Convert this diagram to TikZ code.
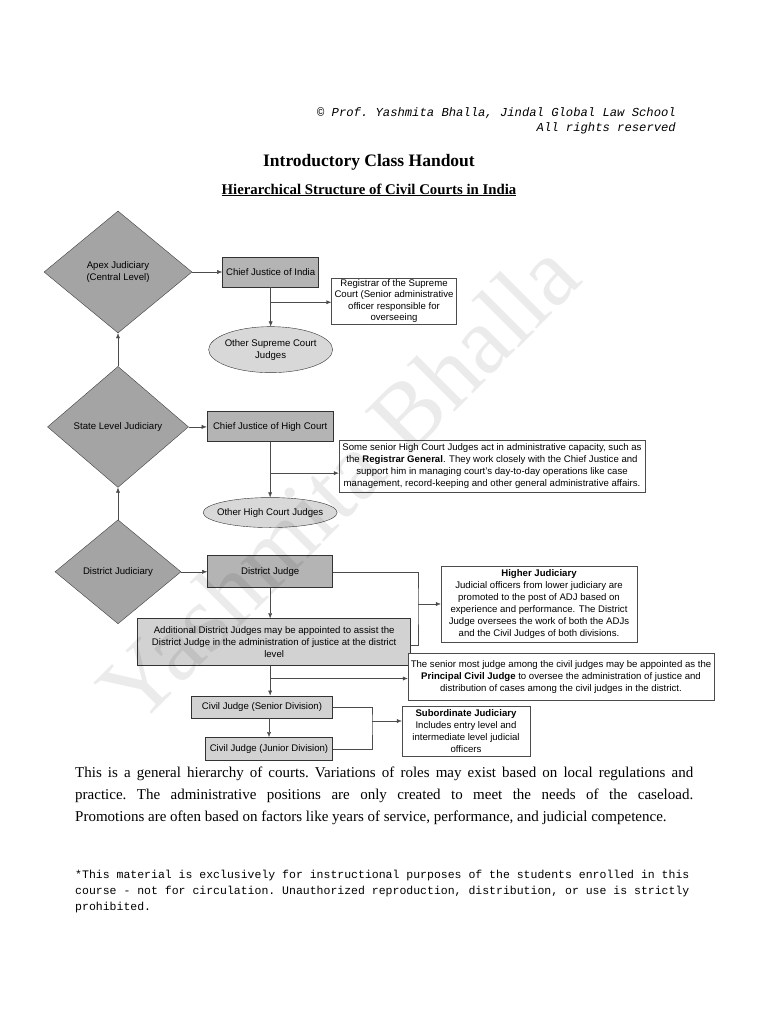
\documentclass[tikz,border=0pt]{standalone}
\usepackage{fontspec}
\setmainfont{Liberation Serif}
\setsansfont{Liberation Sans}
\setmonofont{Liberation Mono}
\usetikzlibrary{shapes.geometric,arrows.meta,positioning,calc}

\definecolor{levelgray}{HTML}{A4A4A4}
\definecolor{judgegray}{HTML}{B4B4B4}
\definecolor{benchgray}{HTML}{D8D8D8}
\definecolor{addlgray}{HTML}{D2D2D2}

\newcommand{\chartfont}{\sffamily\fontsize{9.6}{12}\selectfont}
\newcommand{\monospacing}{\spaceskip=0.6em\relax\xspaceskip=0.6em\relax}

\tikzset{
  level/.style={diamond, draw=black!75, fill=levelgray, inner sep=0pt, align=center, font=\chartfont},
  judge/.style={rectangle, draw=black!80, line width=0.9pt, fill=judgegray, inner sep=0pt, align=center, font=\chartfont},
  bench/.style={ellipse, draw=black!80, fill=benchgray, inner ysep=0pt, inner xsep=-8pt, align=center, font=\chartfont},
  remark/.style={rectangle, draw=black!70, fill=white, inner sep=0pt, align=center, font=\chartfont},
  link/.style={draw=black!70, -{Latex[length=5pt,width=4pt]}},
  line/.style={draw=black!70},
}

\begin{document}
\begin{tikzpicture}[x=1pt,y=-1pt]
  \fill[white] (0,0) rectangle (768,1024);

  % header
  \node (credit) [anchor=east, inner sep=0pt, font=\ttfamily\itshape\fontsize{12.2}{14}\selectfont] at (676,113) {\monospacing © Prof. Yashmita Bhalla, Jindal Global Law School};
  \node (rights) [anchor=east, inner sep=0pt, font=\ttfamily\itshape\fontsize{12.2}{14}\selectfont] at (676,128) {\monospacing All rights reserved};
  \node (title) [font=\bfseries\fontsize{17.5}{20}\selectfont] at (369,162) {Introductory Class Handout};
  \node (subtitle) [font=\bfseries\fontsize{14.8}{16}\selectfont] at (369,190) {\underline{Hierarchical Structure of Civil Courts in India}};

  % levels
  \node (apex) [level, minimum width=148pt, minimum height=122pt] at (118,272) {Apex Judiciary\\(Central Level)};
  \node (state) [level, minimum width=141pt, minimum height=121pt, below=33pt of apex] {State Level Judiciary};
  \node (district) [level, minimum width=126pt, minimum height=104pt, below=32pt of state] {District Judiciary};

  % supreme court
  \node (cji) [judge, minimum width=96pt, minimum height=30pt, right=30pt of apex] {Chief Justice of India};
  \node (osc) [bench, minimum width=124pt, minimum height=46pt, below=39pt of cji] {Other Supreme Court\\Judges};
  \node (reg) [remark, minimum width=125pt, minimum height=46pt, font=\sffamily\fontsize{9.6}{11.2}\selectfont] at (394,301) {Registrar of the Supreme\\Court (Senior administrative\\officer responsible for\\overseeing};

  % high court
  \node (cjh) [judge, minimum width=126pt, minimum height=30pt, right=18pt of state] {Chief Justice of High Court};
  \node (ohc) [bench, inner xsep=-10pt, minimum width=134pt, minimum height=30pt, below=55pt of cjh] {Other High Court Judges};
  \node (regg) [remark, minimum width=306pt, minimum height=52pt] at (492,466) {Some senior High Court Judges act in administrative capacity, such as\\the \textbf{Registrar General}. They work closely with the Chief Justice and\\support him in managing court's day-to-day operations like case\\management, record-keeping and other general administrative affairs.};

  % district
  \node (dj) [judge, minimum width=125pt, minimum height=32pt, right=26pt of district] {District Judge};
  \node (adj) [judge, fill=addlgray, minimum width=273pt, minimum height=47pt, below=30pt of dj, xshift=4pt] {Additional District Judges may be appointed to assist the\\District Judge in the administration of justice at the district\\level};
  \node (higher) [remark, minimum width=196pt, minimum height=76pt] at (539,604) {\textbf{Higher Judiciary}\\Judicial officers from lower judiciary are\\promoted to the post of ADJ based on\\experience and performance. The District\\Judge oversees the work of both the ADJs\\and the Civil Judges of both divisions.};
  \node (cjs) [judge, fill=addlgray, minimum width=141pt, minimum height=22pt] at (262,707) {Civil Judge (Senior Division)};
  \node (cjj) [judge, fill=addlgray, minimum width=127pt, minimum height=23pt] at (269,749) {Civil Judge (Junior Division)};
  \node (pcj) [remark, minimum width=306pt, minimum height=47pt] at (561,677) {The senior most judge among the civil judges may be appointed as the\\\textbf{Principal Civil Judge} to oversee the administration of justice and\\distribution of cases among the civil judges in the district.};
  \node (sub) [remark, minimum width=128pt, minimum height=50pt] at (466,731) {\textbf{Subordinate Judiciary}\\Includes entry level and\\intermediate level judicial\\officers};

  % connectors
  \draw[link] (district) -- (state);
  \draw[link] (state) -- (apex);
  \draw[link] (apex) -- (cji);
  \draw[link] (state) -- (cjh);
  \draw[link] (district) -- (dj);

  \draw[link] (cji) -- (osc);
  \coordinate (forkA) at ($(cji.south)!0.38!(osc.north)$);
  \draw[link] (forkA) -- (forkA -| reg.west);

  \draw[link] (cjh) -- (ohc);
  \coordinate (forkB) at ($(cjh.south)!0.56!(ohc.north)$);
  \draw[link] (forkB) -- (forkB -| regg.west);

  \draw[link] (dj) -- (dj |- adj.north);
  \coordinate (forkC) at (418,604);
  \draw[line] (dj.east) -| (forkC) |- ([yshift=-3pt]adj.east);
  \draw[link] (forkC) -- (forkC -| higher.west);

  \draw[link] (adj.south -| dj) -- (dj |- cjs.north);
  \coordinate (forkD) at ($(adj.south -| dj)!0.42!(dj |- cjs.north)$);
  \draw[link] (forkD) -- (forkD -| pcj.west);

  \draw[link] (cjs.south -| cjj) -- (cjj.north);
  \coordinate (forkE) at (372,721);
  \draw[line] (cjs.east) -| (forkE) |- (cjj.east);
  \draw[link] (forkE) -- (forkE -| sub.west);

  % notes below
  \node (summary) [anchor=north west, text width=618pt, inner sep=0pt, align=justify, font=\fontsize{15}{22}\selectfont] at (75,767) {\frenchspacing\parfillskip=0pt This is a general hierarchy of courts. Variations of roles may exist based on local regulations and\linebreak practice. The administrative positions are only created to meet the needs of the caseload.\linebreak Promotions are often based on factors like years of service, performance, and judicial competence.};
  \node (notice) [anchor=north west, text width=660pt, inner sep=0pt, align=left, font=\ttfamily\fontsize{11.5}{16}\selectfont] at (75,870) {\monospacing *This material is exclusively for instructional purposes of the students enrolled in this\\course - not for circulation. Unauthorized reproduction, distribution, or use is strictly\\prohibited.};

  % watermark
  \node (mark) [rotate=45, text opacity=0.08, font=\fontsize{96}{96}\selectfont] at (338,482) {Yashmita Bhalla};
\end{tikzpicture}
\end{document}
